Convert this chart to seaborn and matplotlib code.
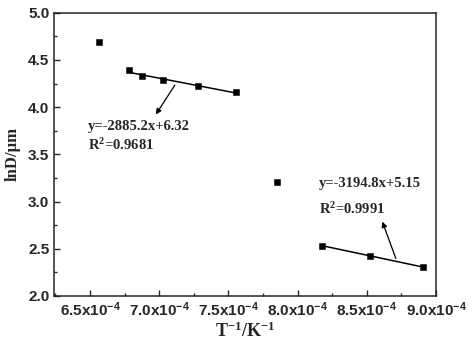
import numpy as np
import matplotlib
matplotlib.use('Agg')
import matplotlib.pyplot as plt
from matplotlib.ticker import FixedLocator, MultipleLocator
import seaborn as sns

sns.set_style('ticks')
plt.rcParams['mathtext.default'] = 'regular'

# inverse temperature (x1e-4 K^-1) and lnD
inv_t = np.array([6.565, 6.784, 6.878, 7.025, 7.278, 7.555, 7.853, 8.176, 8.523, 8.904]) * 1e-4
ln_d = np.array([4.687, 4.39, 4.33, 4.287, 4.22, 4.16, 3.203, 2.532, 2.426, 2.306])
fit_low = [1, 2, 3, 4, 5]
fit_high = [7, 8, 9]

eq_low = ['y=-2885.2x+6.32', 'R$^{2}$=0.9681']
eq_high = ['y=-3194.8x+5.15', 'R$^{2}$=0.9991']

xticks = [6.5e-4, 7.0e-4, 7.5e-4, 8.0e-4, 8.5e-4, 9.0e-4]
xtick_labels = ['6.5x10$^{-4}$', '7.0x10$^{-4}$', '7.5x10$^{-4}$', '8.0x10$^{-4}$', '8.5x10$^{-4}$', '9.0x10$^{-4}$']

serif = 'Liberation Serif'
sans = 'Liberation Sans'

fig = plt.figure(figsize=(4.74, 3.54), dpi=100)
ax = fig.add_axes([0.113, 0.164, 0.807, 0.800])

sns.scatterplot(x=inv_t, y=ln_d, marker='s', s=22, color='k', edgecolor='k', ax=ax, zorder=3)
for idx in (fit_low, fit_high):
    sns.regplot(x=inv_t[idx], y=ln_d[idx], ci=None, scatter=False, ax=ax,
                line_kws=dict(color='k', lw=1.1))

# equation labels
tk = dict(family=serif, fontweight='bold', fontsize=10.5, va='center')
ax.text(6.488e-4, 3.79, eq_low[0], **tk)
ax.text(6.488e-4, 3.60, eq_low[1], **tk)
ax.text(8.155e-4, 3.19, eq_high[0], **tk)
ax.text(8.155e-4, 2.92, eq_high[1], **tk)

arrow = dict(arrowstyle='-|>', color='k', lw=0.9, mutation_scale=8)
ax.annotate('', xy=(6.965e-4, 3.898), xytext=(7.124e-4, 4.258), arrowprops=arrow)
ax.annotate('', xy=(8.605e-4, 2.815), xytext=(8.716e-4, 2.37), arrowprops=arrow)

ax.set_xlim(6.237e-4, 9.0e-4)
ax.set_ylim(2.0, 5.0)
ax.xaxis.set_major_locator(FixedLocator(xticks))
ax.set_xticklabels(xtick_labels)
ax.xaxis.set_minor_locator(FixedLocator([6.25e-4, 6.75e-4, 7.25e-4, 7.75e-4, 8.25e-4, 8.75e-4]))
ax.yaxis.set_major_locator(MultipleLocator(0.5))
ax.yaxis.set_minor_locator(MultipleLocator(0.25))
ax.set_yticklabels([f'{v:.1f}' for v in ax.get_yticks()])

ax.xaxis.set_ticks_position('bottom')
ax.yaxis.set_ticks_position('left')
ax.tick_params(which='both', direction='in', width=1)
ax.tick_params(which='major', length=4.5, labelsize=11, pad=3)
ax.tick_params(which='minor', length=2.5)
for lbl in ax.get_xticklabels() + ax.get_yticklabels():
    lbl.set_family(sans)
    lbl.set_fontweight('bold')
for sp in ax.spines.values():
    sp.set_visible(True)
    sp.set_linewidth(1.1)

ax.set_xlabel('T$^{-1}$/K$^{-1}$', family=serif, fontweight='bold', fontsize=13, labelpad=2)
ax.set_ylabel('lnD/μm', family=serif, fontweight='bold', fontsize=12, labelpad=5)

fig.savefig('out.png', dpi=100)
